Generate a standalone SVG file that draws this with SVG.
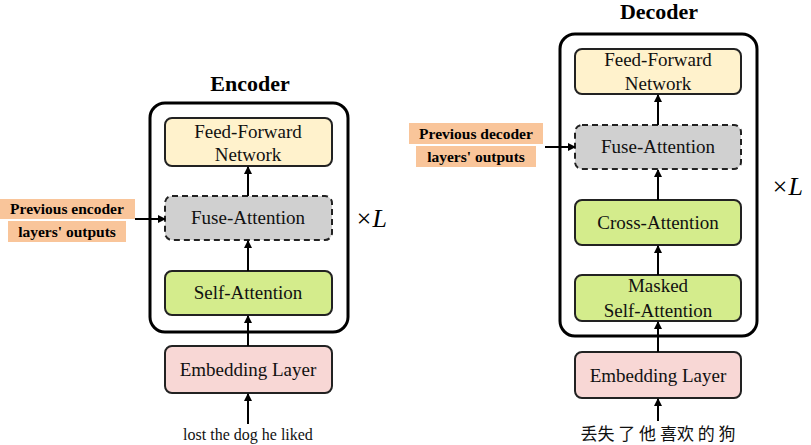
<svg xmlns="http://www.w3.org/2000/svg" width="811" height="445" viewBox="0 0 811 445">
<style>
.o{fill:none;stroke:#000;stroke-width:3}
.b{stroke:#222;stroke-width:2}
.ff{fill:#fff2cc}.ga{fill:#d0d0d0;stroke-dasharray:6,4}.gr{fill:#d4ec8c}.pk{fill:#f8d7d5}
.t{font-family:"Liberation Serif",serif;font-size:19px;fill:#111;text-anchor:middle}
.h{font-family:"Liberation Serif",serif;font-size:22px;font-weight:bold;text-anchor:middle}
.lb{font-family:"Liberation Serif",serif;font-size:15.5px;font-weight:bold;text-anchor:middle}
.hl{fill:#f9c59a}
.c{stroke:#000;stroke-width:2;fill:none;marker-end:url(#a)}
.x{font-family:"Liberation Serif",serif;font-size:26px;font-style:italic}
</style>
<defs><marker id="a" markerWidth="8" markerHeight="8" refX="7" refY="4" orient="auto" markerUnits="userSpaceOnUse"><path d="M0,0L8,4L0,8z" fill="#000"/></marker></defs>
<text class="h" x="250" y="91">Encoder</text>
<text class="h" x="659" y="19">Decoder</text>
<rect class="o" x="150" y="103" width="198" height="229" rx="15"/>
<rect class="o" x="560" y="34" width="197" height="302" rx="15"/>
<g id="enc-ffn"><rect class="b ff" x="165" y="118" width="167" height="48" rx="7"/><text class="t" x="248" y="138">Feed-Forward</text><text class="t" x="248" y="161">Network</text></g>
<g id="enc-fuse"><rect class="b ga" x="165" y="196" width="167" height="44" rx="7"/><text class="t" x="248" y="224">Fuse-Attention</text></g>
<g id="enc-self"><rect class="b gr" x="165" y="271" width="167" height="44" rx="7"/><text class="t" x="248" y="299">Self-Attention</text></g>
<g id="enc-emb"><rect class="b pk" x="165" y="346" width="167" height="47" rx="7"/><text class="t" x="248" y="376">Embedding Layer</text></g>
<g id="enc-in"><text class="t" x="248" y="440" style="font-size:16px">lost the dog he liked</text></g>
<g id="enc-prev"><rect class="hl" x="0" y="199" width="135" height="20"/><rect class="hl" x="8" y="221" width="118" height="21"/><text class="lb" x="67" y="214">Previous encoder</text><text class="lb" x="67" y="237">layers' outputs</text></g>
<text class="x" x="355" y="227">×L</text>
<g id="dec-ffn"><rect class="b ff" x="575" y="49" width="166" height="45" rx="7"/><text class="t" x="658" y="66">Feed-Forward</text><text class="t" x="658" y="90">Network</text></g>
<g id="dec-fuse"><rect class="b ga" x="575" y="125" width="166" height="44" rx="7"/><text class="t" x="658" y="153">Fuse-Attention</text></g>
<g id="dec-cross"><rect class="b gr" x="575" y="200" width="166" height="45" rx="7"/><text class="t" x="658" y="229">Cross-Attention</text></g>
<g id="dec-masked"><rect class="b gr" x="575" y="275" width="166" height="46" rx="7"/><text class="t" x="658" y="292">Masked</text><text class="t" x="658" y="317">Self-Attention</text></g>
<g id="dec-emb"><rect class="b pk" x="575" y="352" width="166" height="46" rx="7"/><text class="t" x="658" y="382">Embedding Layer</text></g>
<g id="dec-in"><text class="t" x="658" y="440" style="font-size:17px;font-family:'Noto Sans CJK SC',sans-serif">丢失 了 他 喜欢 的 狗</text></g>
<g id="dec-prev"><rect class="hl" x="409" y="123" width="134" height="21"/><rect class="hl" x="416" y="146" width="120" height="21"/><text class="lb" x="476" y="139">Previous decoder</text><text class="lb" x="476" y="162">layers' outputs</text></g>
<text class="x" x="771" y="195">×L</text>
<g id="connectors">
<path class="c" d="M248,196V167"/><path class="c" d="M248,271V241"/><path class="c" d="M248,346V316"/><path class="c" d="M248,424V394"/><path class="c" d="M135,219H165"/>
<path class="c" d="M658,125V95"/><path class="c" d="M658,200V170"/><path class="c" d="M658,275V246"/><path class="c" d="M658,352V322"/><path class="c" d="M658,421V399"/><path class="c" d="M545,147H575"/>
</g>
</svg>
